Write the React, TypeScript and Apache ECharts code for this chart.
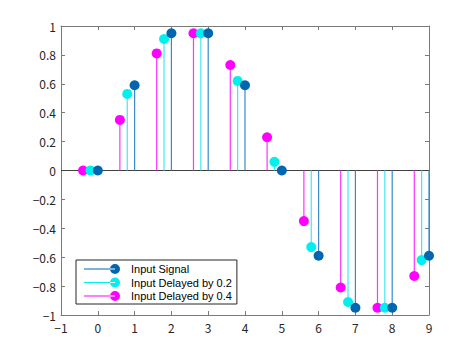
import React, { useEffect, useRef } from "react";
import * as echarts from "echarts";

const signalX = [0, 1, 2, 3, 4, 5, 6, 7, 8, 9];
const signalY = [0, 0.59, 0.95, 0.95, 0.59, 0, -0.59, -0.95, -0.95, -0.59];
const delay2X = [-0.2, 0.8, 1.8, 2.8, 3.8, 4.8, 5.8, 6.8, 7.8, 8.8];
const delay2Y = [0, 0.53, 0.91, 0.95, 0.62, 0.06, -0.53, -0.91, -0.95, -0.62];
const delay4X = [-0.4, 0.6, 1.6, 2.6, 3.6, 4.6, 5.6, 6.6, 7.6, 8.6];
const delay4Y = [0, 0.35, 0.81, 0.95, 0.73, 0.23, -0.35, -0.81, -0.95, -0.73];
const seriesNames = ["Input Signal", "Input Delayed by 0.2", "Input Delayed by 0.4"];

const FONT = "'Noto Sans CJK JP', 'Noto Sans', sans-serif";
const LEGEND_FONT = "'Liberation Sans', Arial, sans-serif";
const ICON =
  "path://M0,4.5 L31,4.5 L31,5.5 L0,5.5 Z M26,5 A5,5 0 1,0 36,5 A5,5 0 1,0 26,5 Z";

function fmt(v: number) {
  const r = Math.round(v * 10) / 10;
  return String(r).replace("-", "\u2212");
}

function stemSeries(name: string, xs: number[], ys: number[], color: string, stemColor: string, z: number, extra: any = {}) {
  return {
    type: "custom",
    name,
    z,
    data: xs.map((x, i) => [x, ys[i]]),
    itemStyle: { color },
    clip: false,
    renderItem: (_params: any, api: any) => {
      const x = api.value(0);
      const y = api.value(1);
      const p0 = api.coord([x, 0]);
      const p1 = api.coord([x, y]);
      return {
        type: "group",
        children: [
          {
            type: "line",
            shape: { x1: p0[0], y1: p0[1], x2: p1[0], y2: p1[1] },
            style: { stroke: stemColor, lineWidth: 1.2 },
          },
          {
            type: "circle",
            shape: { cx: p1[0], cy: p1[1], r: 5 },
            style: { fill: color },
          },
        ],
      };
    },
    ...extra,
  };
}

export default function App() {
  const ref = useRef<HTMLDivElement>(null);
  useEffect(() => {
    if (!ref.current) return;
    const chart = echarts.init(ref.current, undefined, { renderer: "svg" });
    const axisLine = { show: true, lineStyle: { color: "#7a7a7a", width: 1 } };
    const axisTick = { show: true, inside: true, length: 4, lineStyle: { color: "#7a7a7a" } };
    chart.setOption({
      animation: false,
      backgroundColor: "#ffffff",
      grid: { left: 61, top: 26, right: 45, bottom: 40 },
      xAxis: [
        {
          type: "value", min: -1, max: 9, interval: 1, position: "bottom",
          axisLine: { ...axisLine, onZero: false }, axisTick, splitLine: { show: false },
          axisLabel: { formatter: fmt, color: "#262626", fontFamily: FONT, fontSize: 12, margin: 6 },
        },
        {
          type: "value", min: -1, max: 9, interval: 1, position: "top",
          axisLine: { ...axisLine, onZero: false }, axisTick, splitLine: { show: false },
          axisLabel: { show: false },
        },
      ],
      yAxis: [
        {
          type: "value", min: -1, max: 1, interval: 0.2, position: "left",
          axisLine: { ...axisLine, onZero: false }, axisTick, splitLine: { show: false },
          axisLabel: { formatter: fmt, color: "#262626", fontFamily: FONT, fontSize: 12, margin: 5 },
        },
        {
          type: "value", min: -1, max: 1, interval: 0.2, position: "right",
          axisLine: { ...axisLine, onZero: false }, axisTick, splitLine: { show: false },
          axisLabel: { show: false },
        },
      ],
      legend: {
        data: seriesNames,
        orient: "vertical",
        left: 76,
        top: 260,
        icon: ICON,
        itemWidth: 36,
        itemHeight: 10,
        itemGap: 1.5,
        padding: [3, 5, 2, 8],
        borderColor: "#262626",
        borderWidth: 1,
        backgroundColor: "#ffffff",
        textStyle: { color: "#000000", fontFamily: LEGEND_FONT, fontSize: 11, lineHeight: 12, padding: [0, 0, 0, 6] },
        selectedMode: false,
      },
      series: [
        stemSeries(seriesNames[2], delay4X, delay4Y, "#ff00ff", "#ff33ff", 2),
        stemSeries(seriesNames[1], delay2X, delay2Y, "#00f0f0", "#40e8f0", 3),
        stemSeries(seriesNames[0], signalX, signalY, "#0066b0", "#3a8ac8", 4, {
          markLine: {
            silent: true,
            symbol: "none",
            label: { show: false },
            lineStyle: { color: "#404040", width: 1, type: "solid" },
            data: [{ yAxis: 0 }],
            z: 1,
          },
        }),
      ],
    });
    return () => chart.dispose();
  }, []);
  return (
    <div
      ref={ref}
      style={{ position: "fixed", left: 0, top: 0, width: 474, height: 355 }}
    />
  );
}
